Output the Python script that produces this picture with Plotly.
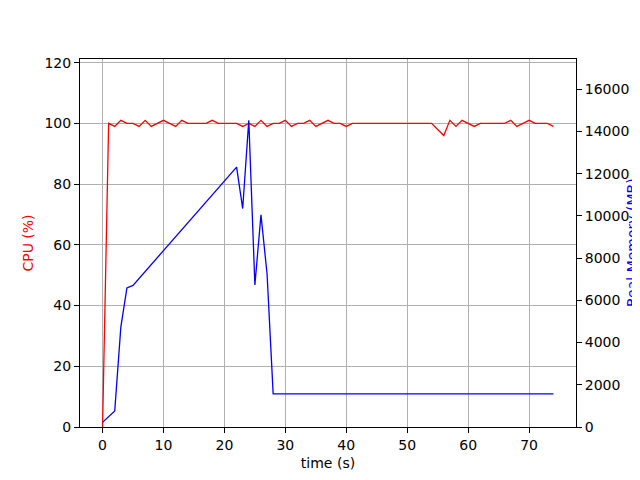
import plotly.graph_objects as go
from plotly.subplots import make_subplots

# CPU usage, one sample per second
cpu_time = list(range(75))
cpu_pct = [0, 100, 99, 101, 100, 100, 99, 101, 99, 100,
           101, 100, 99, 101, 100, 100, 100, 100, 101, 100,
           100, 100, 100, 99, 100, 99, 101, 99, 100, 100,
           101, 99, 100, 100, 101, 99, 100, 101, 100, 100,
           99, 100, 100, 100, 100, 100, 100, 100, 100, 100,
           100, 100, 100, 100, 100, 98, 96, 101, 99, 101,
           100, 99, 100, 100, 100, 100, 100, 101, 99, 100,
           101, 100, 100, 100, 99]

# resident memory samples (MB)
mem_time = [0, 2, 3, 4, 5, 22, 23, 24, 25, 26, 27, 28, 74]
mem_mb = [220, 760, 4730, 6590, 6710, 12310, 10350, 14530, 6730, 10050, 7250, 1570, 1570]

fig = make_subplots(specs=[[{"secondary_y": True}]])

fig.add_trace(go.Scatter(x=cpu_time, y=cpu_pct, mode="lines",
                         line=dict(color="#ff0000", width=1.3), name="CPU"),
              secondary_y=False)
fig.add_trace(go.Scatter(x=mem_time, y=mem_mb, mode="lines",
                         line=dict(color="#0000ff", width=1.3), name="Memory"),
              secondary_y=True)

font = dict(family="DejaVu Sans", size=14, color="black")

# the page body adds an 8px offset, so margins are shifted to compensate
fig.update_layout(
    width=640, height=480,
    margin=dict(l=72, r=72, t=51, b=61, autoexpand=False),
    paper_bgcolor="white", plot_bgcolor="white",
    showlegend=False,
    font=font,
)

fig.update_xaxes(
    domain=[0, 1],
    range=[-3.7, 77.7], tickvals=[0, 10, 20, 30, 40, 50, 60, 70],
    showgrid=True, gridcolor="#b0b0b0", gridwidth=1,
    showline=True, linecolor="black", linewidth=1, mirror=True,
    ticks="outside", ticklen=5, tickcolor="black", zeroline=False,
    automargin=False,
    title=dict(text="time (s)", font=font, standoff=6),
)
fig.update_yaxes(
    range=[0, 121.2], tickvals=[0, 20, 40, 60, 80, 100, 120],
    showgrid=True, gridcolor="#b0b0b0", gridwidth=1,
    showline=True, linecolor="black", linewidth=1,
    ticks="outside", ticklen=5, tickcolor="black", zeroline=False,
    automargin=False,
    title=dict(text="CPU (%)", font=dict(family="DejaVu Sans", size=14, color="#ff0000"), standoff=7),
    secondary_y=False,
)
fig.update_yaxes(
    range=[0, 17436], tickvals=[0, 2000, 4000, 6000, 8000, 10000, 12000, 14000, 16000],
    tickformat="d",
    showgrid=False,
    showline=True, linecolor="black", linewidth=1,
    ticks="outside", ticklen=5, tickcolor="black", zeroline=False,
    automargin=False,
    secondary_y=True,
)

# right-hand axis label, partly cut off by the page edge like the original
fig.add_annotation(
    text="Real Memory (MB)", textangle=-90,
    xref="paper", yref="paper", x=(624 - 72) / 496, y=0.5,
    xanchor="center", yanchor="middle", showarrow=False,
    font=dict(family="DejaVu Sans", size=14, color="#0000ff"),
)

fig.write_html("out.html")
